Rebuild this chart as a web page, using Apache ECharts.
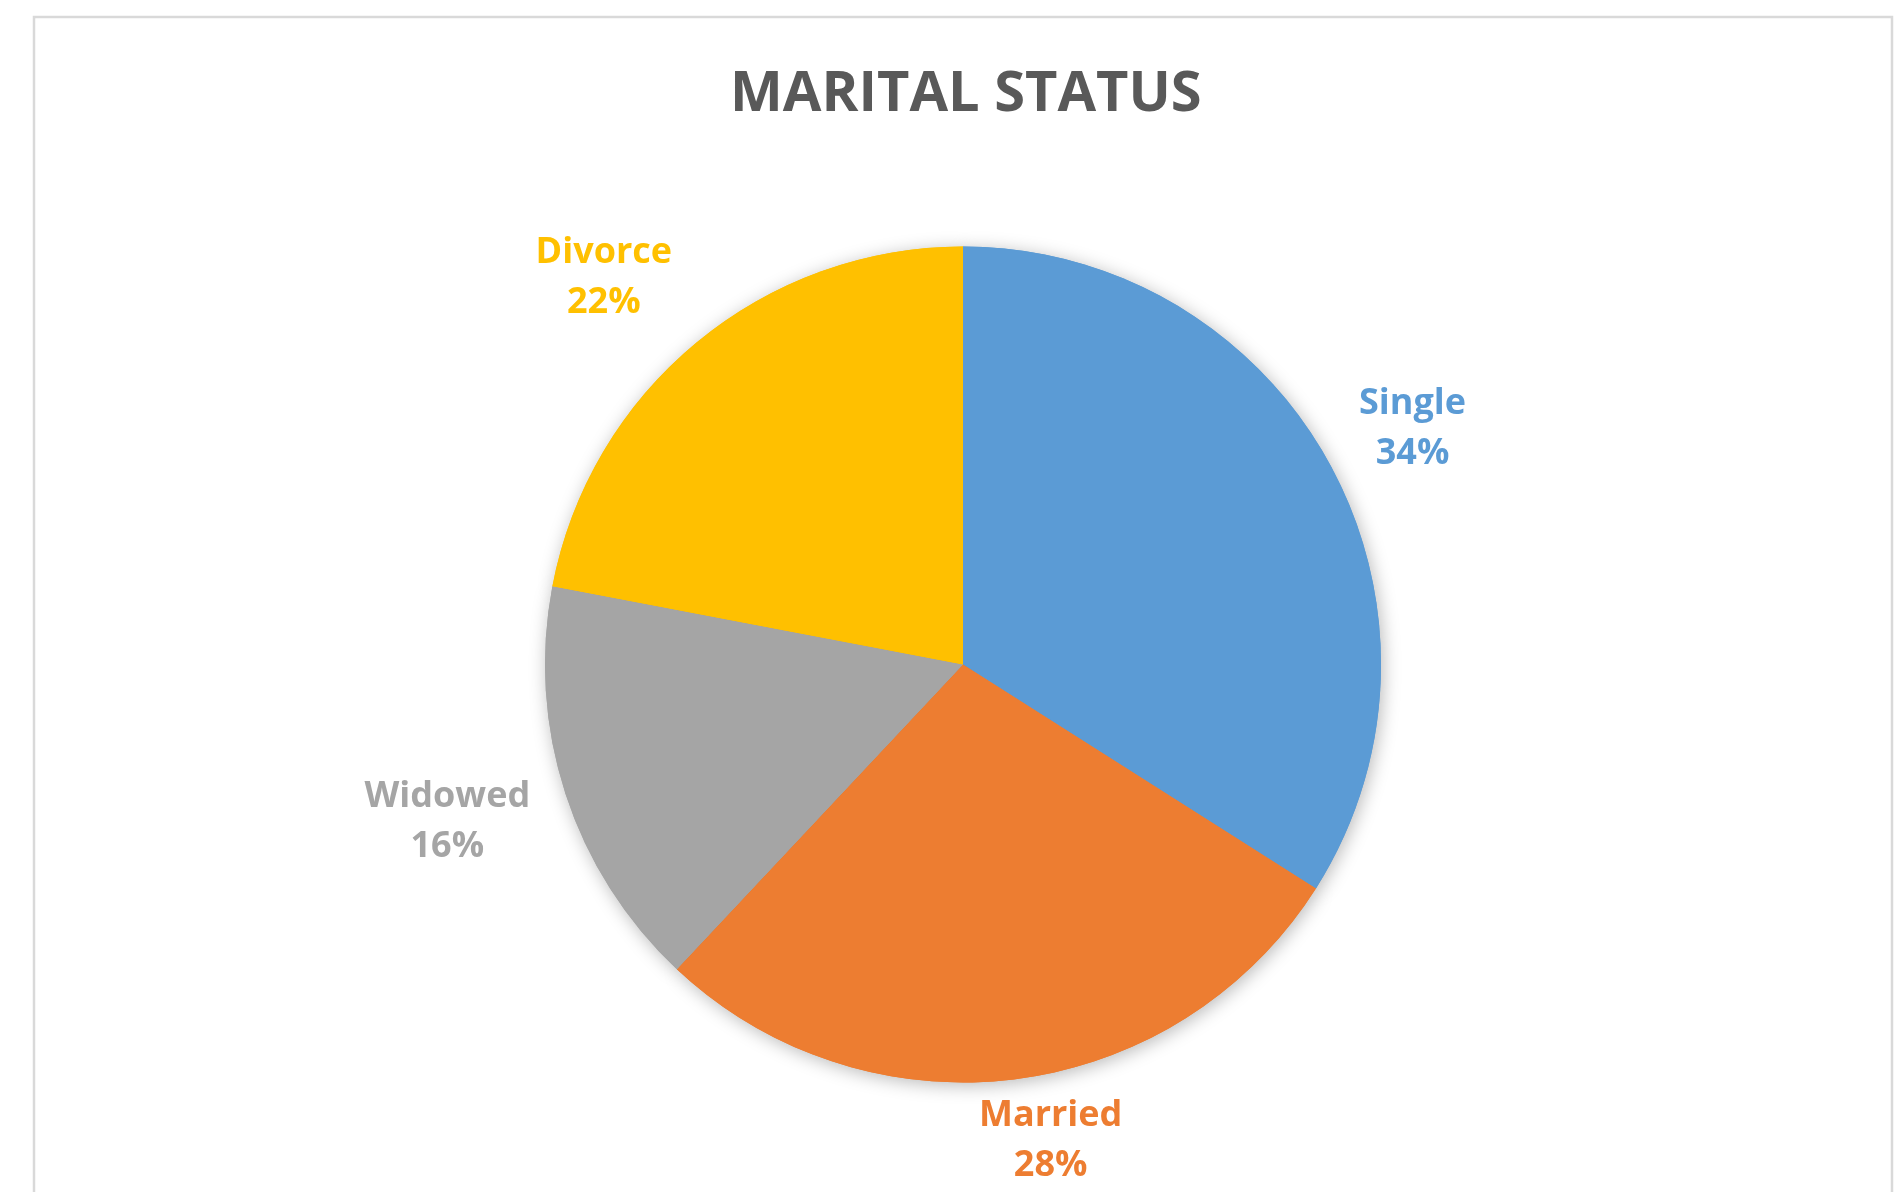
<!DOCTYPE html>
<html>
<head>
<meta charset="utf-8">
<script src="https://cdn.jsdelivr.net/npm/echarts@6/dist/echarts.min.js"></script>
<style>
  html, body { margin: 0; padding: 0; background: #ffffff; overflow: hidden; }
  #chart { width: 1896px; height: 1192px; }
</style>
</head>
<body>
<div id="chart"></div>
<script>
const titleText = 'MARITAL STATUS';
const categories = ['Single', 'Married', 'Widowed', 'Divorce'];
const values = [34, 28, 16, 22];
const colors = ['#5B9BD5', '#ED7D31', '#A5A5A5', '#FFC000'];
// label placement tuning (radial length, horizontal length) per slice
const labelRadial = [79, 58, 79, 89];
const labelHoriz = [9, 23, 38, 31];

const chart = echarts.init(document.getElementById('chart'), null, { renderer: 'canvas' });

const frontData = categories.map((name, i) => ({
  name: name,
  value: values[i],
  itemStyle: { color: colors[i] },
  label: { color: colors[i] },
  labelLine: { length: labelRadial[i], length2: labelHoriz[i] }
}));
const shadowData = categories.map((name, i) => ({
  name: name,
  value: values[i],
  itemStyle: { color: colors[i] }
}));

const center = [963, 664.5];
const radius = 418;

chart.setOption({
  animation: false,
  backgroundColor: '#ffffff',
  title: {
    text: titleText,
    left: 730,
    top: 67,
    padding: 0,
    textStyle: {
      fontFamily: 'Open Sans',
      fontWeight: 'bold',
      fontSize: 56,
      color: '#595959'
    }
  },
  graphic: [{
    type: 'rect',
    silent: true,
    shape: { x: 34, y: 17, width: 1858, height: 1300 },
    style: { fill: 'none', stroke: '#d9d9d9', lineWidth: 2.5 }
  }],
  series: [
    {
      type: 'pie',
      z: 1,
      silent: true,
      center: center,
      radius: radius,
      startAngle: 90,
      clockwise: true,
      label: { show: false },
      labelLine: { show: false },
      itemStyle: {
        shadowBlur: 18,
        shadowColor: 'rgba(0,0,0,0.28)',
        shadowOffsetX: 2,
        shadowOffsetY: 3
      },
      data: shadowData
    },
    {
      type: 'pie',
      z: 2,
      center: center,
      radius: radius,
      startAngle: 90,
      clockwise: true,
      avoidLabelOverlap: false,
      percentPrecision: 0,
      label: {
        show: true,
        position: 'outside',
        formatter: '{b}\n{d}%',
        fontFamily: 'Open Sans',
        fontWeight: 'bold',
        fontSize: 36,
        lineHeight: 50,
        distanceToLabelLine: 5
      },
      labelLine: { show: false },
      labelLayout: function () {
        return { align: 'center', verticalAlign: 'middle', dy: 4 };
      },
      itemStyle: { borderWidth: 0 },
      data: frontData
    }
  ]
});
</script>
</body>
</html>
